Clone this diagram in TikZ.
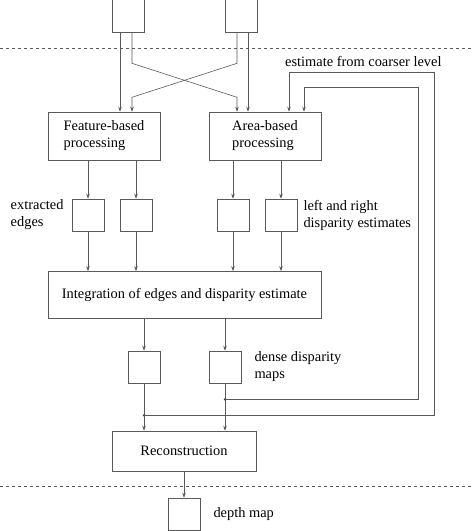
\documentclass[tikz,border=0pt]{standalone}
\usepackage{fontspec}
\setmainfont{Liberation Serif}
\usetikzlibrary{arrows.meta,positioning,calc}

\begin{document}
\begin{tikzpicture}[
    x=1pt, y=-1pt,
    every node/.style={font=\fontsize{14.4}{17}\selectfont},
    line/.style={draw=black!65, line width=0.6pt},
    arr/.style={line, -{Stealth[length=5pt, width=3.5pt]}},
    box/.style={rectangle, draw=black!65, line width=0.6pt, inner sep=0pt, align=left},
    frame/.style={box, minimum width=32pt, minimum height=32pt},
    lbl/.style={inner sep=0pt, align=left},
]
    \useasboundingbox (0,0) rectangle (474,531);
    \clip (0,0) rectangle (474,531);

    % Level separators
    \draw[line, dash pattern=on 3pt off 3pt] (0,48) -- (474,48);
    \draw[line, dash pattern=on 3pt off 3pt] (0,486) -- (474,486);

    % Input images
    \node[frame, minimum height=44pt] (inL) at (128,10) {};
    \node[frame, minimum height=44pt] (inR) at (241,10) {};

    % Processing
    \node[box, minimum width=112pt, minimum height=48pt] (feat) at (104,136) {Feature-based\\processing};
    \node[box, minimum width=112pt, minimum height=48pt] (area) at (265,136) {Area-based\\processing};
    \node[lbl, anchor=west] (coarse) at (285,61) {estimate from coarser level};

    % Intermediate results
    \node[frame] (e1) at (88,215) {};
    \node[frame] (e2) at (136,215) {};
    \node[frame] (d1) at (233,215) {};
    \node[frame] (d2) at (281,215) {};
    \node[lbl, left=8pt of e1] (edgesLbl) {extracted\\edges};
    \node[lbl, right=6pt of d2] (dispLbl) {left and right\\disparity estimates};

    % Integration
    \node[box, minimum width=273pt, minimum height=47pt] (integ) at (184.5,295) {Integration of edges and disparity estimate};

    % Dense maps
    \node[frame] (m1) at (144,367) {};
    \node[frame] (m2) at (225,367) {};
    \node[lbl, right=13pt of m2] (denseLbl) {dense disparity\\maps};

    % Reconstruction and output
    \node[box, minimum width=144pt, minimum height=40pt] (recon) at (184,451) {Reconstruction};
    \node[frame] (depth) at (184,514) {};
    \node[lbl, right=13pt of depth] (depthLbl) {depth map};

    % Inputs to processing (crossed)
    \draw[arr] ([xshift=-8pt]inL.south) -- ([xshift=-8pt]inL.south |- feat.north);
    \draw[arr] ([xshift=4pt]inL.south) -- ++(0,31) -- ($(inR.south)+(-4,65)$) -- ([xshift=-4pt]inR.south |- area.north);
    \draw[arr] ([xshift=-4pt]inR.south) -- ++(0,31) -- ($(inL.south)+(4,65)$) -- ([xshift=4pt]inL.south |- feat.north);
    \draw[arr] ([xshift=7pt]inR.south) -- ([xshift=7pt]inR.south |- area.north);

    % Processing outputs
    \foreach \n/\src in {e1/feat, e2/feat, d1/area, d2/area} {
        \draw[arr] (\src.south -| \n) -- (\n);
        \draw[arr] (\n) -- (\n |- integ.north);
    }

    % Integration to dense maps to reconstruction
    \foreach \n in {m1, m2} {
        \draw[arr] (integ.south -| \n) -- (\n);
        \draw[arr] (\n) -- (\n |- recon.north);
    }
    \draw[arr] (recon) -- (depth);

    % Feedback to next level
    \coordinate (jO) at ($(m1.south)+(0,32)$);
    \coordinate (jI) at ($(m2.south)+(0,16)$);
    \fill[black!80] (jO) circle (1.3pt);
    \fill[black!80] (jI) circle (1.3pt);
    \draw[arr] (jO) -| (434,72) -| ([xshift=24pt]area.north);
    \draw[arr] (jI) -| (418,87) -| ([xshift=39pt]area.north);
\end{tikzpicture}
\end{document}
